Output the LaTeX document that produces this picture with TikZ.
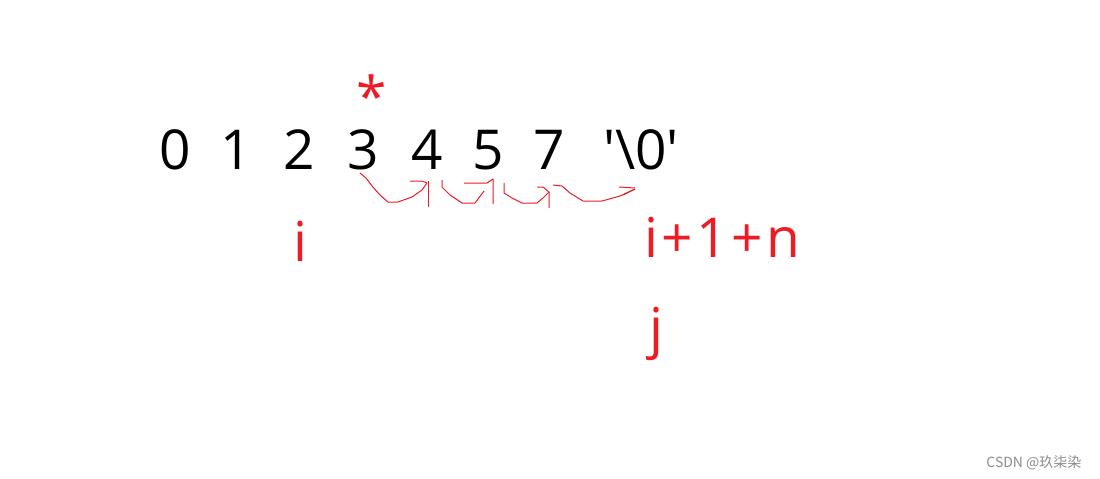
\documentclass[tikz,border=0pt]{standalone}
\usepackage{fontspec}
\setmainfont{Open Sans}
\newfontfamily\cjk{Noto Sans CJK SC}
\definecolor{inkred}{RGB}{237,28,36}
\begin{document}
\begin{tikzpicture}[x=1pt,y=-1pt,
  digit/.style={font=\fontsize{55}{60}\selectfont,anchor=base,inner sep=0pt},
  redtext/.style={digit,text=inkred},
  pen/.style={draw=inkred,line width=1pt,line join=round}]
\useasboundingbox (0,0) rectangle (1100,479);
\foreach \n/\x/\t in {d0/175/0,d1/236/1,d2/299/2,d3/363/3,d4/427/4,d5/488/5,d7/549/7} {
\node[digit] (\n) at (\x,169) {\t};
}
\node[digit] (nul) at (641,169) {\textquotesingle\textbackslash 0\textquotesingle};
\node[text=inkred,font=\fontsize{55}{60}\selectfont,inner sep=0pt] (star) at (372,96) {*};

\node[redtext] (i) at (300,261) {i};
\node[redtext,anchor=base west] (end) at (644,257) {i\kern3.5pt+\kern3.5pt1\kern3.5pt+\kern3.5pt n};
\node[redtext] (j) at (656,347) {j};

% hand drawn moves
\coordinate (s1) at (360,173);
\coordinate (e1) at (427,183);
\draw[pen] (s1) -- (366,178) -- (372,186) -- (380,195) -- (388,202) -- (398,202)
  -- (412,197) -- (422,190) -- (e1);
\draw[pen] (410,181) -- (422,181) -- (e1);
\draw[pen] (428,181) -- (428,207);

\coordinate (s2) at (442,180);
\coordinate (e2) at (493,179);
\draw[pen] (s2) -- (442,187) -- (450,195) -- (462,203) -- (475,203) -- (484,191);
\draw[pen] (464,183) -- (487,183) -- (e2) -- (493,204);

\coordinate (s3) at (504,183);
\coordinate (e3) at (549,192);
\draw[pen] (s3) -- (504,193) -- (512,198) -- (522,203) -- (537,203) -- (543,198) -- (e3);
\draw[pen] (537,187) -- (543,187) -- (e3) -- (549,208);

\coordinate (s4) at (553,185);
\coordinate (e4) at (635,189);
\draw[pen] (s4) -- (562,186) -- (570,193) -- (583,201) -- (602,201) -- (620,196) -- (e4);
\draw[pen] (619,187) -- (635,188);
\draw[pen] (623,195) -- (e4);

\node[font=\cjk\fontsize{14}{15}\selectfont,text=black!45,anchor=east] (mark) at (1085,463) {CSDN @玖柒染};
\end{tikzpicture}
\end{document}
